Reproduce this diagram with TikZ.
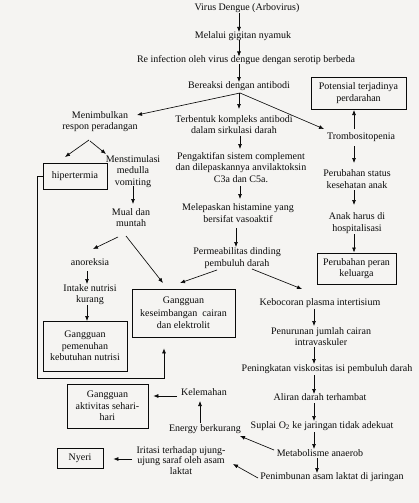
\documentclass[tikz,border=0pt]{standalone}
\usepackage{fontspec}
\setmainfont{Liberation Serif}
\usetikzlibrary{arrows.meta,calc}
\definecolor{bgc}{RGB}{245,244,242}
\definecolor{ink}{RGB}{10,10,10}
\begin{document}
\begin{tikzpicture}[x=1pt,y=-1pt,
  font=\fontsize{10}{11.5}\selectfont,
  txt/.style={inner sep=0.5pt, align=center, text=ink},
  box/.style={draw=ink, line width=0.8pt, inner sep=0pt, align=center, text=ink},
  arr/.style={draw=ink, line width=0.65pt, -{Latex[length=5pt,width=4pt]}}]
\fill[bgc] (0,0) rectangle (419,503);
\useasboundingbox (0,0) rectangle (419,503);

% main column
\node[txt] (virus) at (247,8) {Virus Dengue (Arbovirus)};
\node[txt] (melalui) at (243,36) {Melalui gigitan nyamuk};
\node[txt] (reinf) at (246,60) {Re infection oleh virus dengue dengan serotip berbeda};
\node[txt] (bereaksi) at (239,86) {Bereaksi dengan antibodi};
\node[box, minimum width=95pt, minimum height=32pt] (potensial) at (358.5,93) {Potensial terjadinya\\perdarahan};
\node[txt] (menimbulkan) at (100,121.5) {Menimbulkan\\respon peradangan};
\node[txt] (terbentuk) at (234,124.5) {Terbentuk kompleks antibodi\\dalam sirkulasi darah};
\node[txt] (trombo) at (361,137) {Trombositopenia};
\node[txt] (status) at (357,179) {Perubahan status\\kesehatan anak};
\node[txt] (anak) at (357,223) {Anak harus di\\hospitalisasi};
\node[box, minimum width=79pt, minimum height=31pt] (peran) at (356.5,268.5) {Perubahan peran\\keluarga};
\node[box, minimum width=64pt, minimum height=26pt] (hiper) at (75,176) {hipertermia};
\node[txt] (menstim) at (133,171.5) {Menstimulasi\\medulla\\vomiting};
\node[txt] (mual) at (131,217.5) {Mual dan\\muntah};
\node[txt] (anoreksia) at (90,262) {anoreksia};
\node[txt] (intake) at (90,294.5) {Intake nutrisi\\kurang};
\node[box, minimum width=84pt, minimum height=50pt] (pemenuhan) at (85,346) {Gangguan\\pemenuhan\\kebutuhan nutrisi};
\node[txt] (pengaktifan) at (241,167.5) {Pengaktifan sistem complement\\dan dilepaskannya anvilaktoksin\\C3a dan C5a.};
\node[txt] (melepaskan) at (238,213) {Melepaskan histamine yang\\bersifat vasoaktif};
\node[txt] (perm) at (237,258) {Permeabilitas dinding\\pembuluh darah};
\node[box, minimum width=103pt, minimum height=48pt, font=\fontsize{10}{12.5}\selectfont] (kes) at (183.5,313) {Gangguan\\keseimbangan~ cairan\\dan elektrolit};
\node[txt] (kebocoran) at (320,303) {Kebocoran plasma intertisium};
\node[txt] (penurunan) at (321,336.5) {Penurunan jumlah cairan\\intravaskuler};
\node[txt] (peningkatan) at (327,369) {Peningkatan viskositas isi pembuluh darah};
\node[txt] (aliran) at (320,397) {Aliran darah terhambat};
\node[txt] (suplai) at (322,426) {Suplai O\textsubscript{2} ke jaringan tidak adekuat};
\node[txt] (metabolisme) at (320,453) {Metabolisme anaerob};
\node[txt] (penimbunan) at (332,477) {Penimbunan asam laktat di jaringan};
\node[txt] (energy) at (205,429) {Energy berkurang};
\node[txt] (kelemahan) at (204,392) {Kelemahan};
\node[box, minimum width=81pt, minimum height=44pt] (akt) at (107.5,406) {Gangguan\\aktivitas sehari-\\hari};
\node[txt, font=\fontsize{10}{10.5}\selectfont] (iritasi) at (181,460.5) {Iritasi terhadap ujung-\\ujung saraf oleh asam\\laktat};
\node[box, minimum width=46pt, minimum height=20pt] (nyeri) at (80,458) {Nyeri};

% connectors
\draw[arr] ($(virus)+(-8,5)$) -- ($(melalui)+(-4,-4)$);
\draw[arr] ($(melalui)+(-4,4)$) -- ($(reinf)+(-7,-3.5)$);
\draw[arr] ($(reinf)+(-7,4)$) -- ($(bereaksi)+(0,-4)$);
\draw[arr] ($(bereaksi)+(0,7)$) -- ($(terbentuk)+(5,-15.5)$);
\draw[arr] ($(bereaksi)+(1,7)$) -- ($(menimbulkan)+(37,-6.5)$);
\draw[arr] ($(bereaksi)+(1,7)$) -- ($(trombo)+(-37,-8)$);
\draw[arr] ($(trombo)+(-7,-8)$) -- ($(potensial)+(-4.5,17)$);
\draw[arr] ($(trombo)+(-7,9)$) -- ($(status)+(-3,-16)$);
\draw[arr] ($(status)+(-3,11)$) -- ($(anak)+(-3,-18)$);
\draw[arr] ($(anak)+(-3,11)$) -- ($(peran)+(-2.5,-16)$);
\draw[arr] ($(menimbulkan)+(-11,18.5)$) -- ($(hiper)+(-10,-19)$);
\draw[arr] ($(menimbulkan)+(-10,19.5)$) -- ($(menstim)+(-27,-17.5)$);
\draw[arr] ($(menstim)+(0,14.5)$) -- ($(mual)+(2,-13.5)$);
\draw[arr] ($(mual)+(-13,19.5)$) -- ($(anoreksia)+(3,-13)$);
\draw[arr] ($(mual)+(-5,18.5)$) -- ($(kes)+(-20.5,-30)$);
\draw[arr] ($(anoreksia)+(-3,9)$) -- ($(intake)+(-3,-10.5)$);
\draw[arr] ($(intake)+(-3,10.5)$) -- ($(pemenuhan)+(2,-25)$);
\draw[arr] ($(terbentuk)+(6,11.5)$) -- ($(pengaktifan)+(-1,-18.5)$);
\draw[arr] ($(pengaktifan)+(-1,18.5)$) -- ($(melepaskan)+(2,-14)$);
\draw[arr] ($(melepaskan)+(-2,15)$) -- ($(perm)+(-1,-11)$);
\draw[arr] ($(perm)+(-20,12)$) -- ($(kes)+(-3.5,-30)$);
\draw[arr] ($(perm)+(15,11)$) -- ($(kebocoran)+(-18,-14)$);
\draw[arr] ($(kebocoran)+(-6,6)$) -- ($(penurunan)+(-7,-10.5)$);
\draw[arr] ($(penurunan)+(-7,10.5)$) -- ($(peningkatan)+(-13,-5)$);
\draw[arr] ($(peningkatan)+(-13,6)$) -- ($(aliran)+(-6,-3)$);
\draw[arr] ($(aliran)+(-6,6)$) -- ($(suplai)+(-8,-5)$);
\draw[arr] ($(suplai)+(-8,6)$) -- ($(metabolisme)+(-6,-4)$);
\draw[arr] ($(metabolisme)+(-3,5)$) -- ($(penimbunan)+(-15,-4)$);
\draw[arr] ($(metabolisme)+(-46,-3)$) -- ($(energy)+(35,7)$);
\draw[arr] ($(penimbunan)+(-74,1)$) -- ($(iritasi)+(52,3.5)$);
\draw[arr] ($(energy)+(-5,-6)$) -- ($(kelemahan)+(-4,9)$);
\draw[arr] ($(kelemahan)+(-27,4)$) -- ($(akt.east)+(5,-10)$);
\draw[arr] ($(iritasi)+(-49,-1.5)$) -- ($(nyeri.east)+(10,1)$);
\draw[arr] (hiper.west) -- ++(-5,0) |- ($(kes.south)+(-19.5,41)$) -- ($(kes.south)+(-19.5,11)$);
\end{tikzpicture}
\end{document}
